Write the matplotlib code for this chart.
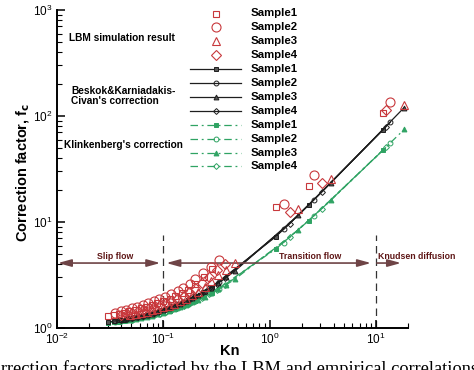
import matplotlib
matplotlib.use("Agg")
import matplotlib.pyplot as plt
from matplotlib.lines import Line2D

plt.rcParams["font.family"] = ["Liberation Sans", "DejaVu Sans"]
plt.rcParams["mathtext.default"] = "regular"

# ── data ──────────────────────────────────────────────────────────────────────
samples = ["Sample1", "Sample2", "Sample3", "Sample4"]

kn_s1 = [0.030, 0.034, 0.038, 0.043, 0.048, 0.054, 0.061, 0.069, 0.078, 0.088, 0.100,
         0.115, 0.130, 0.150, 0.170, 0.200, 0.240, 0.290, 1.14, 2.33, 11.6]
kn_s2 = [0.035, 0.040, 0.045, 0.051, 0.057, 0.064, 0.072, 0.081, 0.092, 0.104, 0.118,
         0.136, 0.153, 0.177, 0.200, 0.236, 0.280, 0.337, 1.35, 2.60, 13.6]
kn_s3 = [0.049, 0.055, 0.062, 0.070, 0.078, 0.088, 0.099, 0.112, 0.127, 0.143, 0.163,
         0.187, 0.212, 0.245, 0.280, 0.330, 0.390, 0.470, 1.86, 3.76, 18.4]
kn_s4 = [0.040, 0.046, 0.051, 0.058, 0.065, 0.073, 0.082, 0.093, 0.105, 0.119, 0.135,
         0.155, 0.175, 0.200, 0.230, 0.270, 0.320, 0.380, 1.54, 3.10, 12.4]

# LBM simulation result
lbm_s1 = [1.30, 1.33, 1.36, 1.40, 1.44, 1.48, 1.53, 1.58, 1.64, 1.71, 1.79,
          1.88, 1.99, 2.13, 2.30, 2.62, 3.05, 3.60, 13.8, 21.9, 107]
lbm_s2 = [1.40, 1.45, 1.49, 1.54, 1.59, 1.65, 1.72, 1.79, 1.88, 1.97, 2.08,
          2.22, 2.38, 2.62, 2.90, 3.30, 3.80, 4.35, 14.8, 27.7, 135]
lbm_s3 = [1.33, 1.36, 1.39, 1.43, 1.47, 1.52, 1.57, 1.63, 1.70, 1.78, 1.89,
          2.03, 2.20, 2.45, 2.80, 3.15, 3.50, 4.10, 13.2, 25.5, 127]
lbm_s4 = [1.33, 1.37, 1.40, 1.44, 1.48, 1.53, 1.58, 1.64, 1.71, 1.79, 1.89,
          2.02, 2.17, 2.37, 2.65, 3.05, 3.50, 4.05, 12.4, 23.3, 114]

# Beskok & Karniadakis-Civan's correction
bk_s1 = [1.14, 1.16, 1.18, 1.20, 1.23, 1.26, 1.29, 1.33, 1.37, 1.42, 1.48,
         1.56, 1.63, 1.74, 1.84, 1.99, 2.20, 2.46, 7.26, 14.5, 74.0]
bk_s2 = [1.165, 1.19, 1.21, 1.24, 1.27, 1.31, 1.34, 1.39, 1.44, 1.50, 1.57,
         1.67, 1.75, 1.88, 1.99, 2.18, 2.41, 2.71, 8.50, 16.2, 87.1]
bk_s3 = [1.23, 1.26, 1.30, 1.33, 1.37, 1.42, 1.48, 1.54, 1.62, 1.70, 1.80,
         1.93, 2.05, 2.22, 2.41, 2.67, 3.00, 3.44, 11.6, 23.4, 120]
bk_s4 = [1.19, 1.22, 1.24, 1.28, 1.31, 1.35, 1.39, 1.45, 1.51, 1.58, 1.66,
         1.76, 1.87, 1.99, 2.15, 2.36, 2.62, 2.94, 9.64, 19.3, 79.3]

# Klinkenberg's correction
kl_s1 = [1.12, 1.14, 1.15, 1.17, 1.19, 1.22, 1.24, 1.28, 1.31, 1.35, 1.40,
         1.46, 1.52, 1.60, 1.68, 1.80, 1.96, 2.16, 5.56, 10.3, 47.4]
kl_s2 = [1.14, 1.16, 1.18, 1.20, 1.23, 1.26, 1.29, 1.32, 1.37, 1.42, 1.47,
         1.54, 1.61, 1.71, 1.80, 1.94, 2.12, 2.35, 6.40, 11.4, 55.4]
kl_s3 = [1.20, 1.22, 1.25, 1.28, 1.31, 1.35, 1.40, 1.45, 1.51, 1.57, 1.65,
         1.75, 1.85, 1.98, 2.12, 2.32, 2.56, 2.88, 8.44, 16.0, 74.6]
kl_s4 = [1.16, 1.18, 1.20, 1.23, 1.26, 1.29, 1.33, 1.37, 1.42, 1.48, 1.54,
         1.62, 1.70, 1.80, 1.92, 2.08, 2.28, 2.52, 7.16, 13.4, 50.6]

regime_bounds = [0.1, 10.0]
regime_labels = ["Slip flow", "Transition flow", "Knudsen diffusion"]

# ── styles ────────────────────────────────────────────────────────────────────
RED, BLACK, GREEN = "#c8383c", "#1e1e1e", "#2fa363"
MAROON, MAROON_TXT = "#6e4446", "#5e1616"
DASHDOT = (0, (6, 3, 1.5, 3))

red_mk = [("s", 4.5), ("o", 6.5), ("^", 5.5), ("D", 4.8)]
line_mk = [("s", 3.0, True), ("o", 3.5, False), ("^", 3.5, True), ("D", 3.0, False)]

kn_all = [kn_s1, kn_s2, kn_s3, kn_s4]
lbm_all = [lbm_s1, lbm_s2, lbm_s3, lbm_s4]
bk_all = [bk_s1, bk_s2, bk_s3, bk_s4]
kl_all = [kl_s1, kl_s2, kl_s3, kl_s4]

W, H = 474, 370
fig = plt.figure(figsize=(W / 100, H / 100), dpi=100)
ax = fig.add_axes([57 / W, 42 / H, 351 / W, 318 / H])
ax.set_xscale("log")
ax.set_yscale("log")
ax.set_xlim(0.01, 20)
ax.set_ylim(1, 1000)

for i in range(4):
    mk, ms, filled = line_mk[i]
    ax.plot(kn_all[i], kl_all[i], color=GREEN, lw=0.9, ls=DASHDOT, marker=mk, ms=ms,
            mfc=GREEN if filled else "none", mec=GREEN, mew=0.7, zorder=2)
for i in range(4):
    mk, ms, filled = line_mk[i]
    ax.plot(kn_all[i], bk_all[i], color=BLACK, lw=0.9, marker=mk, ms=ms,
            mfc="#555555" if filled else "none", mec=BLACK, mew=0.7, zorder=3)
for i in range(4):
    mk, ms = red_mk[i]
    ax.plot(kn_all[i], lbm_all[i], ls="none", marker=mk, ms=ms, mfc="none",
            mec=RED, mew=0.8, zorder=4)

# flow regime markers
for b in regime_bounds:
    ax.plot([b, b], [1, 7.5], color="#333333", lw=0.9, dashes=(6, 4), zorder=1)

arrow_y = 4.1
arr = dict(color=MAROON, lw=1.2, shrinkA=0, shrinkB=0)
ax.annotate("", xy=(0.0936, arrow_y), xytext=(0.0102, arrow_y),
            arrowprops=dict(arrowstyle="<|-|>,head_length=0.8,head_width=0.22",
                            mutation_scale=10, **arr))
ax.annotate("", xy=(8.97, arrow_y), xytext=(0.1067, arrow_y),
            arrowprops=dict(arrowstyle="<|-|>,head_length=0.8,head_width=0.22",
                            mutation_scale=10, **arr))
ax.annotate("", xy=(17.2, arrow_y), xytext=(10.2, arrow_y),
            arrowprops=dict(arrowstyle="-|>,head_length=0.8,head_width=0.22",
                            mutation_scale=10, **arr), annotation_clip=False)
txt_kw = dict(color=MAROON_TXT, fontsize=6.3, fontweight="bold", ha="center", va="center")
ax.text(0.0352, 4.77, regime_labels[0], **txt_kw)
ax.text(2.41, 4.77, regime_labels[1], **txt_kw)
ax.text(24.4, 4.77, regime_labels[2], clip_on=False, **txt_kw)

# axes cosmetics
for s in ["top", "right"]:
    ax.spines[s].set_visible(False)
for s in ["left", "bottom"]:
    ax.spines[s].set_linewidth(1.4)
ax.tick_params(which="major", direction="in", length=6, width=1.1, labelsize=8.5, pad=3)
ax.tick_params(which="minor", direction="in", length=3.5, width=0.8)
ax.tick_params(top=False, right=False, which="both")
ax.set_xlabel("Kn", fontsize=10.5, fontweight="bold", va="center")
ax.xaxis.set_label_coords((230 - 57) / 351, (328 - 351) / 318)
ax.set_ylabel("Correction factor, f$_\\mathbf{c}$", fontsize=10.5, fontweight="bold",
              va="center")
ax.yaxis.set_label_coords((22 - 57) / 351, (328 - 172) / 318)

# ── hand-built legend ────────────────────────────────────────────────────────
def fy(px):
    return 1 - px / H

row_y = [13.5 + 13.9 * k for k in range(12)]
lx0, lxm, lx1, tx = 190 / W, 216 / W, 241 / W, 251 / W
for k in range(12):
    grp, i = divmod(k, 4)
    y = fy(row_y[k])
    if grp == 0:
        mk, ms = red_mk[i]
        fig.add_artist(Line2D([lxm], [y], ls="none", marker=mk, ms=ms, mfc="none",
                              mec=RED, mew=0.8, transform=fig.transFigure))
    else:
        mk, ms, filled = line_mk[i]
        col = BLACK if grp == 1 else GREEN
        fill = ("#555555" if grp == 1 else GREEN) if filled else "none"
        fig.add_artist(Line2D([lx0, lxm, lx1], [y, y, y], color=col, lw=0.9,
                              ls="-" if grp == 1 else DASHDOT, marker=mk, ms=ms,
                              markevery=[1], mfc=fill, mec=col, mew=0.7,
                              transform=fig.transFigure))
    fig.text(tx, y, samples[i], fontsize=8.2, fontweight="bold", va="center")

grp_kw = dict(fontsize=7.3, fontweight="bold", va="center")
fig.text(69 / W, fy(38), "LBM simulation result", **grp_kw)
fig.text(71 / W, fy(91), "Beskok&Karniadakis-", **grp_kw)
fig.text(71 / W, fy(101.5), "Civan's correction", **grp_kw)
fig.text(64 / W, fy(145), "Klinkenberg's correction", **grp_kw)

# caption cut off at the bottom of the image
fig.text(1 / W, fy(374), "rrection factors predicted by the LBM and empirical correlations",
         fontsize=13.2, family=["Liberation Serif", "DejaVu Serif"], va="baseline")

fig.savefig("out.png", dpi=100)
